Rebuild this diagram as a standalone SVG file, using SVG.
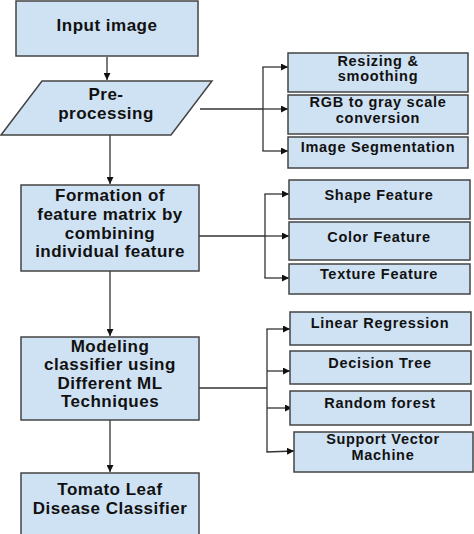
<svg xmlns="http://www.w3.org/2000/svg" width="474" height="534" viewBox="0 0 474 534">
<style>
.box{fill:#cfe2f3;stroke:#444;stroke-width:1.5}
.t{font-family:"Liberation Sans",Arial,sans-serif;font-weight:bold;fill:#111;text-anchor:middle;dominant-baseline:central}
.m{font-size:17px;letter-spacing:0.5px}
.s{font-size:14.5px;letter-spacing:0.7px}
.c{fill:none;stroke:#333;stroke-width:1.3}
</style>
<defs>
<marker id="ah" viewBox="0 0 10 10" refX="10" refY="5" markerWidth="7" markerHeight="7" markerUnits="userSpaceOnUse" orient="auto">
<path d="M0,0 L10,5 L0,10 z" fill="#111"/>
</marker>
</defs>
<rect width="474" height="534" fill="#fff"/>
<g id="connectors">
<line class="c" x1="107" y1="57" x2="107" y2="80" marker-end="url(#ah)"/>
<line class="c" x1="110" y1="135" x2="110" y2="184" marker-end="url(#ah)"/>
<line class="c" x1="200" y1="109" x2="263" y2="109"/>
<line class="c" x1="263" y1="67" x2="263" y2="151"/>
<line class="c" x1="262.4" y1="67" x2="288" y2="67" marker-end="url(#ah)"/>
<line class="c" x1="263" y1="109" x2="288" y2="109" marker-end="url(#ah)"/>
<line class="c" x1="262.4" y1="151" x2="288" y2="151" marker-end="url(#ah)"/>
<line class="c" x1="110" y1="271" x2="110" y2="336" marker-end="url(#ah)"/>
<line class="c" x1="199" y1="236" x2="265" y2="236"/>
<line class="c" x1="265" y1="194" x2="265" y2="278"/>
<line class="c" x1="264.4" y1="194" x2="289" y2="194" marker-end="url(#ah)"/>
<line class="c" x1="265" y1="236" x2="289" y2="236" marker-end="url(#ah)"/>
<line class="c" x1="264.4" y1="278" x2="289" y2="278" marker-end="url(#ah)"/>
<line class="c" x1="110" y1="420" x2="110" y2="472" marker-end="url(#ah)"/>
<line class="c" x1="199" y1="388" x2="267" y2="388"/>
<line class="c" x1="267" y1="329" x2="267" y2="452"/>
<line class="c" x1="266.4" y1="329" x2="290" y2="329" marker-end="url(#ah)"/>
<line class="c" x1="267" y1="371" x2="290" y2="371" marker-end="url(#ah)"/>
<line class="c" x1="267" y1="408" x2="292" y2="408" marker-end="url(#ah)"/>
<line class="c" x1="266.4" y1="452" x2="294" y2="451" marker-end="url(#ah)"/>
</g>
<g id="input">
<rect class="box" x="16" y="1" width="182" height="55"/>
<text class="t m" x="107" y="25">Input image</text>
</g>
<g id="preprocessing">
<polygon class="box" points="42,81 212,81 171,135 1,135"/>
<text class="t m" x="106" y="94">Pre-</text>
<text class="t m" x="106" y="113">processing</text>
</g>
<g id="resizing">
<rect class="box" x="288" y="53" width="180" height="39"/>
<text class="t s" x="378" y="61">Resizing &amp;</text>
<text class="t s" x="378" y="76">smoothing</text>
</g>
<g id="rgb">
<rect class="box" x="288" y="95" width="180" height="39"/>
<text class="t s" x="378" y="102">RGB to gray scale</text>
<text class="t s" x="378" y="118">conversion</text>
</g>
<g id="segmentation">
<rect class="box" x="288" y="137" width="180" height="31"/>
<text class="t s" x="378" y="147">Image Segmentation</text>
</g>
<g id="formation">
<rect class="box" x="21" y="185" width="178" height="86"/>
<text class="t m" x="110" y="195">Formation of</text>
<text class="t m" x="110" y="214">feature matrix by</text>
<text class="t m" x="110" y="233">combining</text>
<text class="t m" x="110" y="251">individual feature</text>
</g>
<g id="shape">
<rect class="box" x="289" y="180" width="181" height="39"/>
<text class="t s" x="379" y="195">Shape Feature</text>
</g>
<g id="color">
<rect class="box" x="289" y="222" width="181" height="38"/>
<text class="t s" x="379" y="237">Color Feature</text>
</g>
<g id="texture">
<rect class="box" x="289" y="264" width="181" height="30"/>
<text class="t s" x="379" y="274">Texture Feature</text>
</g>
<g id="modeling">
<rect class="box" x="21" y="337" width="178" height="83"/>
<text class="t m" x="110" y="346">Modeling</text>
<text class="t m" x="110" y="364">classifier using</text>
<text class="t m" x="110" y="383">Different ML</text>
<text class="t m" x="110" y="401">Techniques</text>
</g>
<g id="linear">
<rect class="box" x="290" y="312" width="181" height="33"/>
<text class="t s" x="380" y="323">Linear Regression</text>
</g>
<g id="decision">
<rect class="box" x="290" y="351" width="181" height="33"/>
<text class="t s" x="380" y="363">Decision Tree</text>
</g>
<g id="random">
<rect class="box" x="290" y="391" width="181" height="34"/>
<text class="t s" x="380" y="403">Random forest</text>
</g>
<g id="svm">
<rect class="box" x="294" y="432" width="179" height="40"/>
<text class="t s" x="383" y="439">Support Vector</text>
<text class="t s" x="383" y="455">Machine</text>
</g>
<g id="tomato">
<rect class="box" x="21" y="473" width="178" height="70"/>
<text class="t m" x="110" y="489">Tomato Leaf</text>
<text class="t m" x="110" y="508">Disease Classifier</text>
</g>
</svg>
